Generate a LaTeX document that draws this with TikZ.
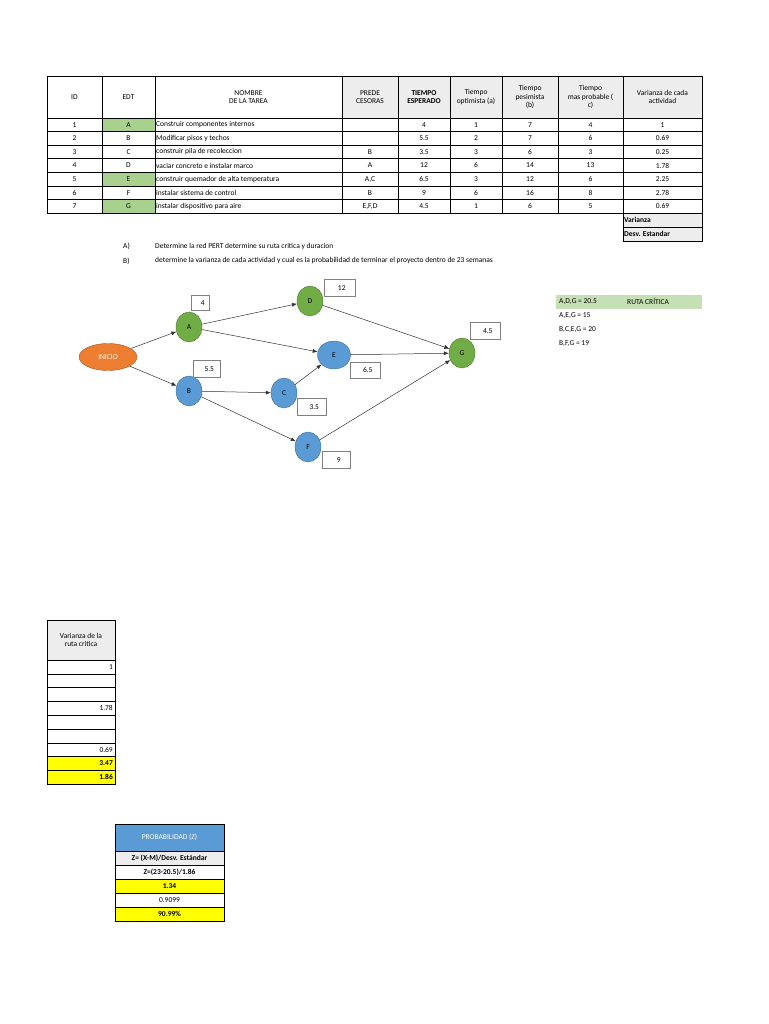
\documentclass[tikz,border=0pt]{standalone}
\usepackage{fontspec}
\setmainfont{Carlito}
\usetikzlibrary{arrows.meta,shapes.geometric}
\definecolor{hdr}{HTML}{EDEDED}
\definecolor{grn}{HTML}{A9D18E}
\definecolor{lgrn}{HTML}{C5E0B4}
\definecolor{ngrn}{HTML}{70AD47}
\definecolor{nblue}{HTML}{5B9BD5}
\definecolor{norg}{HTML}{ED7D31}
\definecolor{yel}{HTML}{FFFF00}
\begin{document}
\begin{tikzpicture}[x=1pt,y=-1pt,
  txt/.style={font=\fontsize{7.5}{8.5}\selectfont,inner sep=1pt},
  cell/.style={draw=black,line width=0.5pt},
  gnode/.style={ellipse,fill=ngrn,draw=ngrn!70!black,line width=0.4pt,minimum width=26pt,minimum height=30pt,inner sep=0pt,font=\fontsize{7.5}{8}\selectfont},
  bnode/.style={gnode,fill=nblue,draw=nblue!70!black},
  valbox/.style={draw=gray,fill=white,line width=0.5pt,anchor=north west,font=\fontsize{7.5}{8}\selectfont,align=left,inner sep=0pt},
  arr/.style={-{Latex[length=5pt,width=4pt]},line width=0.5pt,draw=black!80}]
\useasboundingbox (0,0) rectangle (768,1024);
\fill[white] (0,0) rectangle (768,1024);
% ---------- main table ----------
\fill[hdr] (342,76) rectangle (702,118);
\foreach \y in {118,172.3,199.4} \fill[grn] (102,\y) rectangle (155,\y+13.57);
\fill[hdr] (623,213) rectangle (702,241);
\draw[cell] (47,76) rectangle (702,213);
\foreach \x in {102,155,342,398,450,502,558,623} \draw[cell] (\x,76) -- (\x,213);
\foreach \i in {0,...,6} \draw[cell] (47,118+\i*13.57) -- (702,118+\i*13.57);
\draw[cell] (623,213) rectangle (702,241); \draw[cell] (623,227) -- (702,227);
\node[txt] (h1) at (74.5,97) {ID};
\node[txt] (h2) at (128.5,97) {EDT};
\node[txt,align=center] (h3) at (248.5,97) {NOMBRE\\DE LA TAREA};
\node[txt,align=center] (h4) at (370,97) {PREDE\\CESORAS};
\node[txt,align=center,font=\fontsize{7.5}{8.5}\selectfont\bfseries] (h5) at (424,97) {TIEMPO\\ESPERADO};
\node[txt,align=center] (h6) at (476,97) {Tiempo\\optimista (a)};
\node[txt,align=center] (h7) at (530,97) {Tiempo\\pesimista\\(b)};
\node[txt,align=center] (h8) at (590.5,97) {Tiempo\\mas probable (\\c)};
\node[txt,align=center] (h9) at (662.5,97) {Varianza de cada\\actividad};
\foreach [count=\i] \e/\n/\p/\t/\a/\b/\c/\v in {
 A/Construir componentes internos//4/1/7/4/1,
 B/Modificar pisos y techos//5.5/2/7/6/0.69,
 C/construir pila de recoleccion/B/3.5/3/6/3/0.25,
 D/vaciar concreto e instalar marco/A/12/6/14/13/1.78,
 E/construir quemador de alta temperatura/{A,C}/6.5/3/12/6/2.25,
 F/instalar sistema de control/B/9/6/16/8/2.78,
 G/instalar dispositivo para aire/{E,F,D}/4.5/1/6/5/0.69}{
  \pgfmathsetmacro{\yy}{118+(\i-0.5)*13.57}
  \node[txt] (id\i) at (74.5,\yy) {\i};
  \node[txt] (edt\i) at (128.5,\yy) {\e};
  \node[txt,anchor=west] (nm\i) at (155,\yy) {\n};
  \node[txt] (pr\i) at (370,\yy) {\p};
  \node[txt] (te\i) at (424,\yy) {\t};
  \node[txt] (ta\i) at (476,\yy) {\a};
  \node[txt] (tb\i) at (530,\yy) {\b};
  \node[txt] (tc\i) at (590.5,\yy) {\c};
  \node[txt] (va\i) at (662.5,\yy) {\v};
}
\node[txt,anchor=west,font=\fontsize{7.5}{8.5}\selectfont\bfseries] (var) at (623,220) {Varianza};
\node[txt,anchor=west,font=\fontsize{7.5}{8.5}\selectfont\bfseries] (desv) at (623,234) {Desv. Estandar};
\node[txt,anchor=west] (qa) at (122,246.5) {A)};
\node[txt,anchor=west] (qat) at (154,246.5) {Determine la red PERT determine su ruta critica y duracion};
\node[txt,anchor=west] (qb) at (122,261) {B)};
\node[txt,anchor=west] (qbt) at (154,261) {determine la varianza de cada actividad y cual es la probabilidad de terminar el proyecto dentro de 23 semanas};
% ---------- network ----------
\node[ellipse,fill=norg,draw=norg!70!black,line width=0.4pt,minimum width=58pt,minimum height=27pt,inner sep=0pt,text=white,font=\fontsize{7.5}{8}\selectfont] (ini) at (108,357) {INICIO};
\node[gnode] (A) at (189,327) {A};
\node[gnode] (D) at (310,301) {D};
\node[bnode,minimum width=33pt,minimum height=28pt] (E) at (334,355) {E};
\node[gnode] (G) at (462,353) {G};
\node[bnode] (B) at (189,391) {B};
\node[bnode] (C) at (284,393) {C};
\node[bnode] (F) at (308,447) {F};
\draw[arr] (ini) -- (A); \draw[arr] (ini) -- (B);
\draw[arr] (A) -- (D); \draw[arr] (A) -- (E);
\draw[arr] (B) -- (C); \draw[arr] (B) -- (F);
\draw[arr] (C) -- (E);
\draw[arr] (D) -- (G); \draw[arr] (E) -- (G); \draw[arr] (F) -- (G);
\node[valbox,minimum width=18pt,minimum height=15pt] (bA) at (191,295) {\hspace{5pt}4};
\node[valbox,minimum width=31pt,minimum height=17pt] (bD) at (324,279) {\hspace{4pt}12};
\node[valbox,minimum width=30pt,minimum height=17pt] (bG) at (470,322) {\hspace{5pt}4.5};
\node[valbox,minimum width=30pt,minimum height=16pt] (bE) at (350,362) {\hspace{5pt}6.5};
\node[valbox,minimum width=27pt,minimum height=17pt] (bB) at (193,360) {\hspace{5pt}5.5};
\node[valbox,minimum width=29pt,minimum height=17pt] (bC) at (297,398) {\hspace{5pt}3.5};
\node[valbox,minimum width=28pt,minimum height=17pt] (bF) at (322,451) {\hspace{5pt}9};
% ---------- routes ----------
\fill[lgrn] (556,295) rectangle (702,308.5);
\node[txt,anchor=west] (r1) at (558,301.5) {A,D,G = 20.5};
\node[txt,anchor=west] (r1b) at (626,301.5) {RUTA CRÍTICA};
\node[txt,anchor=west] (r2) at (558,315.5) {A,E,G = 15};
\node[txt,anchor=west] (r3) at (558,329.5) {B,C,E,G = 20};
\node[txt,anchor=west] (r4) at (558,343.5) {B,F,G = 19};
% ---------- varianza ruta critica ----------
\fill[hdr] (47,620) rectangle (115,660);
\fill[yel] (47,756.4) rectangle (115,784);
\draw[cell] (47,620) rectangle (115,784);
\foreach \i in {0,...,8} \draw[cell] (47,660+\i*13.8) -- (115,660+\i*13.8);
\node[txt,align=center] (vh) at (81,640) {Varianza de la\\ruta critica};
\foreach \i/\v in {1/1,4/1.78,7/0.69} \node[txt,anchor=east] (vr\i) at (114,660+\i*13.8-6.9) {\v};
\node[txt,anchor=east,font=\fontsize{7.5}{8.5}\selectfont\bfseries] (vr8) at (114,763.3) {3.47};
\node[txt,anchor=east,font=\fontsize{7.5}{8.5}\selectfont\bfseries] (vr9) at (114,777.1) {1.86};
% ---------- probabilidad ----------
\fill[nblue] (115,824) rectangle (224,851);
\fill[hdr] (115,851) rectangle (224,865);
\fill[yel] (115,879) rectangle (224,893);
\fill[yel] (115,907) rectangle (224,921);
\draw[cell] (115,824) rectangle (224,921);
\foreach \y in {851,865,879,893,907} \draw[cell] (115,\y) -- (224,\y);
\node[txt,text=white] (ph) at (169.5,837.5) {PROBABILIDAD (Z)};
\node[txt,font=\fontsize{7.5}{8.5}\selectfont\bfseries] (p1) at (169.5,858) {Z= (X-M)/Desv. Estándar};
\node[txt,font=\fontsize{7.5}{8.5}\selectfont\bfseries] (p2) at (169.5,872) {Z=(23-20.5)/1.86};
\node[txt,font=\fontsize{7.5}{8.5}\selectfont\bfseries] (p3) at (169.5,886) {1.34};
\node[txt] (p4) at (169.5,900) {0.9099};
\node[txt,font=\fontsize{7.5}{8.5}\selectfont\bfseries] (p5) at (169.5,914) {90.99\%};
\end{tikzpicture}
\end{document}
